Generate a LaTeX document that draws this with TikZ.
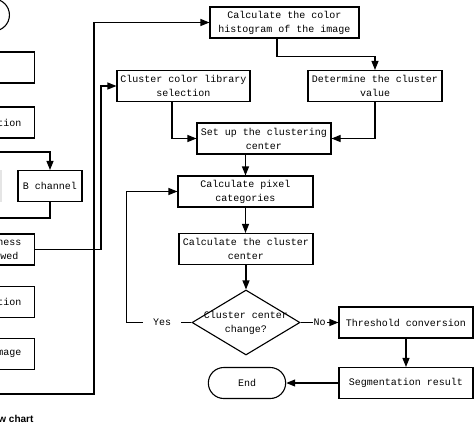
\documentclass[tikz,border=0pt]{standalone}
\usepackage{fontspec}
\setmainfont{Liberation Mono}
\newfontfamily\capfont{Liberation Sans}
\usetikzlibrary{arrows.meta,shapes.geometric,shapes.misc}

\begin{document}
\begin{tikzpicture}[x=1pt,y=-1pt,line width=1.1pt,
  every node/.style={font=\fontsize{10}{14}\selectfont},
  box/.style={draw,minimum width=134pt,minimum height=31pt,align=center,inner sep=2pt},
  part/.style={box,minimum width=50pt,anchor=east},
  dia/.style={draw,diamond,aspect=1.66,inner xsep=-12pt,inner ysep=-2pt,minimum width=108pt,minimum height=65pt,align=center},
  term/.style={draw,rounded rectangle,minimum width=84pt,minimum height=31pt},
  arr/.style={-{Triangle[length=9pt,width=7pt]}},
  lab/.style={fill=white,inner sep=1pt}]
\useasboundingbox (0,0) rectangle (474,424);
\clip (0,0) rectangle (474,424);

\node[term,minimum width=80pt,minimum height=32pt,anchor=east] (start) at (10,15) {};
\node[part] (lb1) at (35,67.5) {};
\node[part] (lb2) at (35,122.5) {tion};
\node[fill=gray!20,minimum width=30pt,minimum height=32pt,anchor=east] (gch) at (2.5,186) {};
\node[box,minimum width=64pt] (bch) at (50,186) {B channel};
\node[part] (lb3) at (35,249.5) {ness\\wed};
\node[part] (lb4) at (35,302) {tion};
\node[part] (lb5) at (35,354) {mage};
\coordinate (inA) at (-5,152);
\coordinate (outB) at (-5,218);
\coordinate (inC) at (-5,394);

\node[box,minimum width=149pt] (hist) at (284.5,22.5) {Calculate the color\\histogram of the image};
\node[box] (det) at (375,86) {Determine the cluster\\value};
\node[box,minimum width=133pt] (lib) at (183.5,86) {Cluster color library\\selection};
\node[box] (setup) at (264,138.5) {Set up the clustering\\center};
\node[box,minimum width=135pt] (pix) at (245.5,191.5) {Calculate pixel\\categories};
\node[box] (cen) at (246,249) {Calculate the cluster\\center};
\node[dia] (dia) at (246,322.5) {Cluster center\\change?};
\node[box] (thr) at (406,322.5) {Threshold conversion};
\node[box] (seg) at (406,383) {Segmentation result};
\node[term] (end) at (247,383) {End};
\node[font=\capfont\bfseries\fontsize{10}{12}\selectfont,anchor=east,inner sep=0pt] (cap) at (34,419) {w chart};

\draw[arr] (inA) -| (bch.north);
\draw (bch.south) |- (outB);
\draw[arr] (lb3.east) -- ++(66,0) |- (lib.west);
\draw[arr] (inC) -- ++(99,0) |- (hist.west);
\draw[arr] ([xshift=-7.5pt]hist.south) -- ++(0,18) -| (det.north);
\draw[arr] (det.south) |- (setup.east);
\draw[arr] ([xshift=-11.5pt]lib.south) |- (setup.west);
\draw[arr] (setup.south -| pix.north) -- (pix.north);
\draw[arr] (pix.south) -- (pix.south |- cen.north);
\draw[arr] (cen.south) -- (dia.north);
\draw[arr] (dia.east) -- node[lab]{No} (thr.west);
\draw[arr] (dia.west) -- node[lab,pos=0.45,inner xsep=10pt]{Yes} ++(-65,0) |- (pix.west);
\draw[arr] (thr.south) -- (seg.north);
\draw[arr] (seg.west) -- (end.east);
\end{tikzpicture}
\end{document}
